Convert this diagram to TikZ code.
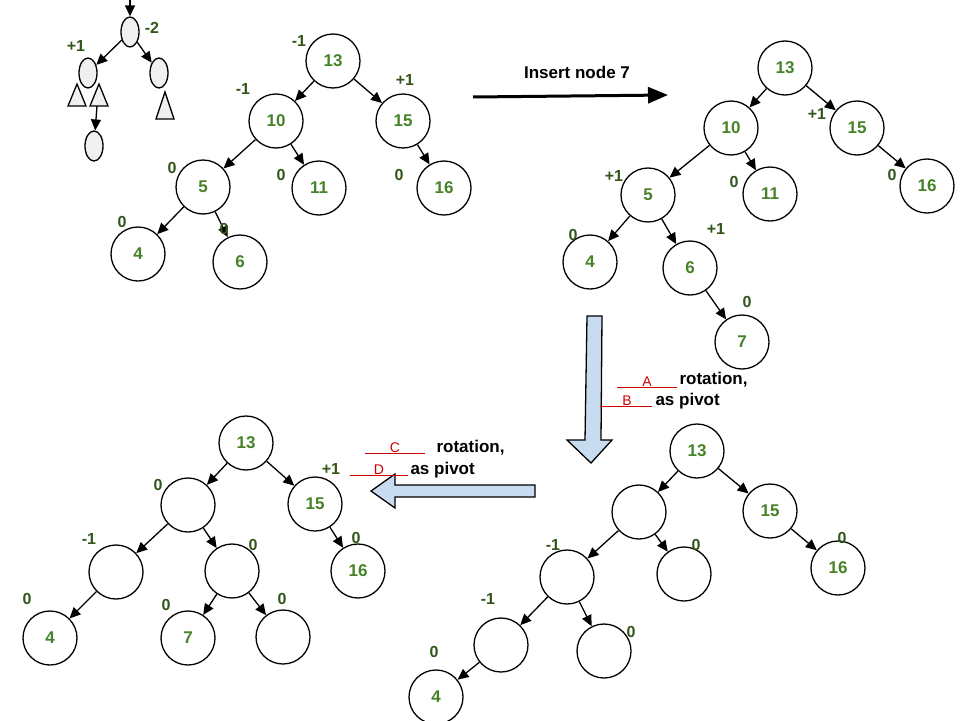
\documentclass[tikz,border=0pt]{standalone}
\usepackage{fontspec}
\setmainfont{Liberation Sans}
\usetikzlibrary{arrows.meta,shapes.arrows,shapes.geometric}
\definecolor{ng}{RGB}{70,130,40}
\definecolor{lg}{RGB}{50,85,25}
\definecolor{ab}{RGB}{200,220,240}
\begin{document}
\begin{tikzpicture}[x=1pt,y=-1pt,
 n/.style={circle,draw,line width=1.3pt,minimum size=54pt,inner sep=0,font=\bfseries\fontsize{17}{17}\selectfont,text=ng},
 b/.style={font=\bfseries\fontsize{16}{16}\selectfont,text=lg},
 e/.style={-{Triangle[length=11pt,width=10pt]},line width=1.3pt},
 se/.style={ellipse,draw,line width=1.3pt,fill=gray!12,minimum width=18pt,minimum height=30pt,inner sep=0},
 rl/.style={font=\fontsize{14}{14}\selectfont,text=red!80!black},
 rline/.style={draw=red!80!black,line width=0.6pt},
 bt/.style={font=\bfseries\fontsize{17}{17}\selectfont}]
\useasboundingbox (0,0) rectangle (960,720);
% small diagram
\node[se] (s0) at (130,32) {};
\node[se] (s1) at (88,73) {};
\node[se] (s2) at (159,73) {};
\node[se] (s3) at (94,146) {};
\coordinate (stop) at (130,0);
\draw[e] (stop) -- (s0);
\draw[e] (s0) -- (s1); \draw[e] (s0) -- (s2);
\draw[line width=1.3pt,fill=gray!12] (77,84) -- (68,106) -- (86,106) -- cycle;
\draw[line width=1.3pt,fill=gray!12] (99,84) -- (90,106) -- (108,106) -- cycle;
\draw[line width=1.3pt,fill=gray!12] (165,92) -- (156,119) -- (174,119) -- cycle;
\coordinate (tb) at (97,106);
\draw[e] (tb) -- (s3);
\node[b] at (152,28) {-2}; \node[b] at (76,46) {+1};
% tree 1
\node[n] (a13) at (333,61) {13}; \node[n] (a10) at (276,121) {10};
\node[n] (a15) at (403,121) {15}; \node[n] (a5) at (203,187) {5};
\node[n] (a11) at (319,188) {11}; \node[n] (a16) at (444,188) {16};
\node[n] (a4) at (138,254) {4}; \node[n] (a6) at (240,262) {6};
\foreach \p/\c in {a13/a10,a13/a15,a10/a5,a10/a11,a15/a16,a5/a4,a5/a6} \draw[e] (\p)--(\c);
\node[b] at (299,41) {-1}; \node[b] at (243,89) {-1}; \node[b] at (405,80) {+1};
\node[b] at (172,168) {0}; \node[b] at (281,175) {0}; \node[b] at (399,175) {0};
\node[b] at (122,222) {0}; \node[b] at (224,229) {0};
% insert arrow
\coordinate (ia) at (473,97); \coordinate (ib) at (668,95);
\draw[-{Triangle[length=20pt,width=16pt]},line width=3pt] (ia) -- (ib);
\node[bt] at (577,72) {Insert node 7};
% tree 2
\node[n] (b13) at (785,68) {13}; \node[n] (b10) at (731,128) {10};
\node[n] (b15) at (857,128) {15}; \node[n] (b5) at (648,195) {5};
\node[n] (b11) at (770,194) {11}; \node[n] (b16) at (927,186) {16};
\node[n] (b4) at (590,262) {4}; \node[n] (b6) at (690,268) {6};
\node[n] (b7) at (742,342) {7};
\foreach \p/\c in {b13/b10,b13/b15,b10/b5,b10/b11,b15/b16,b5/b4,b5/b6,b6/b7} \draw[e] (\p)--(\c);
\node[b] at (817,114) {+1}; \node[b] at (892,175) {0}; \node[b] at (614,176) {+1};
\node[b] at (734,182) {0}; \node[b] at (573,235) {0}; \node[b] at (716,229) {+1};
\node[b] at (747,302) {0};
% down block arrow
\draw[line width=1.3pt,fill=ab] (587,316) -- (602,316) -- (601,440) -- (612,440) -- (591,463) -- (567,440) -- (585,440) -- cycle;
\draw[rline] (617,387) -- (677,387); \node[rl,anchor=base] at (647,386) {A};
\draw[rline] (600,406) -- (652,406); \node[rl,anchor=base] at (627,405) {B};
\node[bt,anchor=base west] at (676,384) {rotation,};
\node[bt,anchor=base west] at (652,405) {as pivot};
% tree 3
\node[n] (c13) at (697,451) {13}; \node[n] (ca) at (639,512) {};
\node[n] (c15) at (770,511) {15}; \node[n] (cb) at (567,577) {};
\node[n] (cc) at (684,574) {}; \node[n] (c16) at (838,568) {16};
\node[n] (cd) at (501,645) {}; \node[n] (ce) at (604,651) {};
\node[n] (c4) at (436,697) {4};
\foreach \p/\c in {c13/ca,c13/c15,ca/cb,ca/cc,c15/c16,cb/cd,cb/ce,cd/c4} \draw[e] (\p)--(\c);
\node[b] at (553,545) {-1}; \node[b] at (696,545) {0}; \node[b] at (842,538) {0};
\node[b] at (488,599) {-1}; \node[b] at (631,632) {0}; \node[b] at (434,652) {0};
% left block arrow
\draw[line width=1.3pt,fill=ab] (535,485) -- (535,497) -- (395,497) -- (395,508) -- (371,491) -- (395,474) -- (395,485) -- cycle;
\draw[rline] (365,453) -- (425,453); \node[rl,anchor=base] at (395,452) {C};
\draw[rline] (350,475) -- (408,475); \node[rl,anchor=base] at (379,474) {D};
\node[bt,anchor=base west] at (433,452) {rotation,};
\node[bt,anchor=base west] at (407,474) {as pivot};
% tree 4
\node[n] (d13) at (246,443) {13}; \node[n] (da) at (188,505) {};
\node[n] (d15) at (315,504) {15}; \node[n] (db) at (116,572) {};
\node[n] (dc) at (232,571) {}; \node[n] (d16) at (358,571) {16};
\node[n] (d4) at (50,638) {4}; \node[n] (d7) at (188,638) {7};
\node[n] (de) at (283,637) {};
\foreach \p/\c in {d13/da,d13/d15,da/db,da/dc,d15/d16,db/d4,dc/d7,dc/de} \draw[e] (\p)--(\c);
\node[b] at (158,485) {0}; \node[b] at (331,469) {+1}; \node[b] at (89,539) {-1};
\node[b] at (253,545) {0}; \node[b] at (356,538) {0}; \node[b] at (27,599) {0};
\node[b] at (166,605) {0}; \node[b] at (282,599) {0};
\end{tikzpicture}
\end{document}
